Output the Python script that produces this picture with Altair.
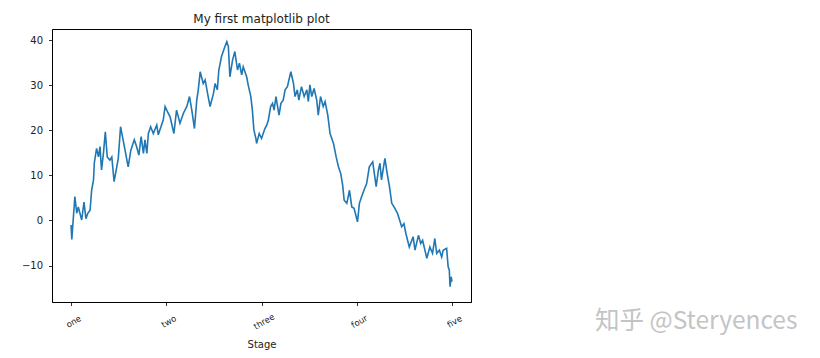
import altair as alt
import pandas as pd

# Random-walk values (index, value)
steps = [0, 2, 10, 15, 19, 28, 34, 39, 44, 50, 54, 59, 61, 67, 72, 76, 80, 85, 90, 95,
         102, 107, 113, 120, 124, 130, 135, 140, 150, 157, 166, 172, 178, 184, 190, 194, 199, 203, 209, 216,
         225, 229, 242, 247, 255, 260, 270, 277, 286, 295, 304, 311, 317, 324, 330, 334, 339, 347, 352, 360,
         365, 374, 378, 384, 388, 395, 404, 409, 413, 417, 424, 430, 437, 442, 448, 452, 461, 465, 472, 476,
         480, 486, 487, 494, 500, 509, 514, 518, 524, 529, 533, 538, 546, 551, 557, 562, 568, 577, 584, 588,
         594, 598, 605, 612, 619, 623, 627, 632, 638, 645, 649, 655, 662, 667, 674, 680, 689, 696, 702, 708,
         713, 717, 724, 731, 737, 743, 752, 757, 763, 769, 776, 783, 792, 801, 807, 811, 815, 824, 830, 836,
         842, 848, 857, 868, 874, 879, 888, 898, 903, 912, 918, 923, 934, 942, 949, 955, 960, 967, 973, 977,
         986, 990, 993, 995, 998, 1000]
values = [-1.0, -4.2, 5.3, 1.6, 3.0, 0.1, 4.1, 0.4, 1.6, 2.3, 6.7, 9.0, 12.7, 16.0, 14.1, 16.4, 11.2, 14.9, 19.7, 14.1,
          13.4, 14.1, 8.6, 11.9, 13.8, 20.8, 18.6, 16.4, 11.9, 15.6, 17.9, 16.4, 14.5, 18.6, 14.9, 17.9, 14.9, 19.3, 20.8, 19.3,
          21.2, 19.0, 22.3, 25.3, 23.8, 23.0, 19.3, 24.5, 21.6, 23.8, 25.3, 27.5, 24.5, 20.4, 26.7, 29.0, 33.0, 30.4, 31.2, 27.5,
          25.3, 28.2, 30.4, 29.0, 33.4, 36.4, 38.6, 39.7, 38.6, 31.9, 35.6, 37.5, 33.4, 34.9, 32.3, 34.1, 31.9, 30.1, 27.5, 24.5,
          20.1, 17.9, 17.1, 19.3, 18.2, 20.4, 21.2, 22.3, 25.3, 26.0, 24.5, 27.5, 23.4, 26.0, 26.7, 29.0, 29.7, 33.0, 30.4, 27.5,
          29.0, 26.7, 29.7, 27.5, 29.0, 26.4, 30.1, 27.5, 29.3, 26.7, 23.4, 27.5, 25.3, 26.4, 23.4, 19.3, 17.1, 14.1, 11.9, 10.4,
          7.9, 4.5, 3.8, 6.7, 3.0, 2.7, -0.3, 3.8, 5.3, 6.7, 8.2, 11.9, 13.0, 7.5, 11.2, 12.7, 9.0, 13.8, 10.4, 7.5,
          3.8, 3.0, 1.6, -1.4, -0.7, -2.9, -5.9, -3.6, -6.6, -3.3, -5.1, -4.4, -8.4, -5.9, -7.3, -4.0, -7.3, -6.6, -8.1, -6.6,
          -6.2, -10.3, -11.0, -14.7, -12.5, -13.6]

tick_positions = [0, 250, 500, 750, 1000]
tick_labels = ["one", "two", "three", "four", "five"]
y_ticks = [-10, 0, 10, 20, 30, 40]

df = pd.DataFrame({"step": steps, "value": values})

label_expr = "{" + ",".join(f"'{p}':'{l}'" for p, l in zip(tick_positions, tick_labels)) + "}[datum.value]"

line = alt.Chart(df).mark_line(color="#1f77b4", strokeWidth=1.6).encode(
    x=alt.X("step:Q",
            scale=alt.Scale(domain=[-50, 1050], nice=False, zero=False),
            axis=alt.Axis(values=tick_positions, labelExpr=label_expr, title="Stage",
                          labelAngle=330, labelAlign="center", labelBaseline="top",
                          labelFontSize=8.5, labelPadding=12, titleFontSize=10,
                          titleFontWeight="normal", titlePadding=9, grid=False,
                          tickSize=3.5, tickColor="black", domainColor="black",
                          labelColor="#222222", titleColor="#222222")),
    y=alt.Y("value:Q",
            scale=alt.Scale(domain=[-18.1, 42.5], nice=False, zero=False),
            axis=alt.Axis(values=y_ticks, title=None, grid=False,
                          labelExpr="replace(format(datum.value, 'd'), '-', '\u2212')",
                          labelFontSize=10, labelPadding=6, tickSize=3.5,
                          tickColor="black", domainColor="black", labelColor="#222222")),
)

watermark = alt.Chart(pd.DataFrame({"t": ["知乎 @Steryences"]})).mark_text(
    align="left", baseline="middle", fontSize=24.5, color="#c4c4c4",
    font="Noto Sans CJK SC"
).encode(x=alt.value(543), y=alt.value(293), text="t:N")

chart = alt.layer(line, watermark).properties(
    width=419, height=273,
    title=alt.TitleParams("My first matplotlib plot", fontSize=12, fontWeight="normal",
                          font="DejaVu Sans", color="#222222", offset=3),
    autosize=alt.AutoSizeParams(type="none"),
    padding={"left": 44, "top": 21, "right": 340, "bottom": 48},
).configure_view(stroke="black", strokeWidth=1).configure_axis(
    labelFont="DejaVu Sans", titleFont="DejaVu Sans", domainWidth=0.8, tickWidth=0.8
)

chart.save("out.html", embed_options={"renderer": "svg", "actions": False})
